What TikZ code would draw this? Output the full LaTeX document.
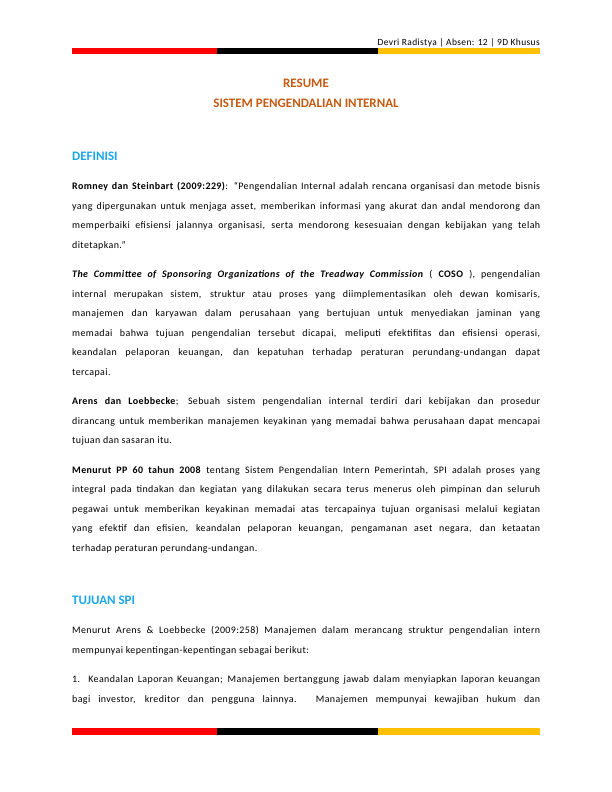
\documentclass[tikz,border=0pt]{standalone}
\usepackage{fontspec}
\setmainfont{Carlito}
\newfontfamily\spaced[LetterSpace=4]{Carlito}
\definecolor{ttl}{HTML}{C55A11}
\definecolor{hd}{HTML}{1AA7E8}
\definecolor{bred}{HTML}{FF0000}
\definecolor{byel}{HTML}{FFC000}
\newcommand{\jl}[1]{\makebox[468bp][s]{#1}}
\begin{document}
\begin{tikzpicture}[x=1bp,y=-1bp,
  body/.style={anchor=base west,inner sep=0pt,font=\spaced\fontsize{10}{12}\selectfont},
  title/.style={anchor=base,inner sep=0pt,font=\fontsize{13}{14}\selectfont\bfseries,text=ttl},
  heading/.style={anchor=base west,inner sep=0pt,font=\fontsize{13}{14}\selectfont\bfseries,text=hd}]
\fill[white] (0,0) rectangle (612,792);
% header
\node[anchor=base east,inner sep=0pt,font=\spaced\fontsize{9.5}{10}\selectfont] (hdr) at (540,46) {Devri Radistya | Absen: 12 | 9D Khusus};
\fill[bred] (72,48.5) rectangle (217,54.5);
\fill[black] (217,48.5) rectangle (378,54.5);
\fill[byel] (378,48.5) rectangle (540,54.5);
\fill[bred] (72,728) rectangle (217,734.5);
\fill[black] (217,728) rectangle (378,734.5);
\fill[byel] (378,728) rectangle (540,734.5);
% titles
\node[title] (t1) at (306,87) {RESUME};
\node[title] (t2) at (306,107) {SISTEM PENGENDALIAN INTERNAL};
\node[heading] (h1) at (72,160) {DEFINISI};
% P1
\node[body] (a1) at (72,189.5) {\jl{\textbf{Romney dan Steinbart (2009:229)}: “Pengendalian Internal adalah rencana organisasi dan metode bisnis}};
\node[body] (a2) at (72,209) {\jl{yang dipergunakan untuk menjaga asset, memberikan informasi yang akurat dan andal mendorong dan}};
\node[body] (a3) at (72,228.5) {\jl{memperbaiki efisiensi jalannya organisasi, serta mendorong kesesuaian dengan kebijakan yang telah}};
\node[body] (a4) at (72,248) {ditetapkan.”};
% P2
\node[body] (b1) at (72,277.5) {\jl{\textbf{\itshape The Committee of Sponsoring Organizations of the Treadway Commission} ( \textbf{COSO} ), pengendalian}};
\node[body] (b2) at (72,297) {\jl{internal merupakan sistem, struktur atau proses yang diimplementasikan oleh dewan komisaris,}};
\node[body] (b3) at (72,316.5) {\jl{manajemen dan karyawan dalam perusahaan yang bertujuan untuk menyediakan jaminan yang}};
\node[body] (b4) at (72,336) {\jl{memadai bahwa tujuan pengendalian tersebut dicapai, meliputi efektifitas dan efisiensi operasi,}};
\node[body] (b5) at (72,355.5) {\jl{keandalan pelaporan keuangan, dan kepatuhan terhadap peraturan perundang-undangan dapat}};
\node[body] (b6) at (72,375) {tercapai.};
% P3
\node[body] (c1) at (72,404.5) {\jl{\textbf{Arens dan Loebbecke}; Sebuah sistem pengendalian internal terdiri dari kebijakan dan prosedur}};
\node[body] (c2) at (72,424) {\jl{dirancang untuk memberikan manajemen keyakinan yang memadai bahwa perusahaan dapat mencapai}};
\node[body] (c3) at (72,443.5) {tujuan dan sasaran itu.};
% P4
\node[body] (d1) at (72,473) {\jl{\textbf{Menurut PP 60 tahun 2008} tentang Sistem Pengendalian Intern Pemerintah, SPI adalah proses yang}};
\node[body] (d2) at (72,492.5) {\jl{integral pada tindakan dan kegiatan yang dilakukan secara terus menerus oleh pimpinan dan seluruh}};
\node[body] (d3) at (72,512) {\jl{pegawai untuk memberikan keyakinan memadai atas tercapainya tujuan organisasi melalui kegiatan}};
\node[body] (d4) at (72,531.5) {\jl{yang efektif dan efisien, keandalan pelaporan keuangan, pengamanan aset negara, dan ketaatan}};
\node[body] (d5) at (72,551) {terhadap peraturan perundang-undangan.};
% TUJUAN
\node[heading] (h2) at (72,604) {TUJUAN SPI};
\node[body] (e1) at (72,633.5) {\jl{Menurut Arens \& Loebbecke (2009:258) Manajemen dalam merancang struktur pengendalian intern}};
\node[body] (e2) at (72,653) {mempunyai kepentingan-kepentingan sebagai berikut:};
\node[body] (f1) at (72,682.5) {\jl{1. Keandalan Laporan Keuangan; Manajemen bertanggung jawab dalam menyiapkan laporan keuangan}};
\node[body] (f2) at (72,702) {\jl{bagi investor, kreditor dan pengguna lainnya. Manajemen mempunyai kewajiban hukum dan}};
\end{tikzpicture}
\end{document}
